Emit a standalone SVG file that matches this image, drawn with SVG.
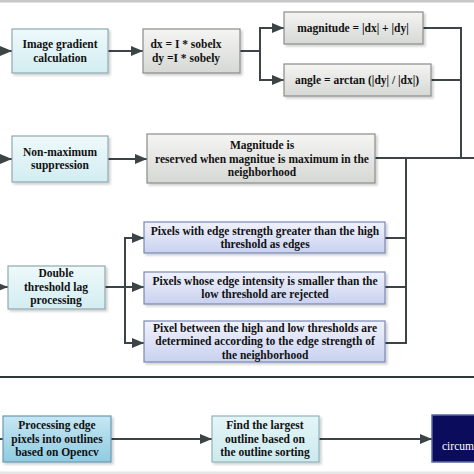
<svg xmlns="http://www.w3.org/2000/svg" width="474" height="474" viewBox="0 0 474 474">
<defs>
<linearGradient id="gCyan" x1="0" y1="0" x2="0" y2="1"><stop offset="0" stop-color="#eef9fb"/><stop offset="1" stop-color="#d2edf1"/></linearGradient>
<linearGradient id="gGray" x1="0" y1="0" x2="0" y2="1"><stop offset="0" stop-color="#f5f5f3"/><stop offset="1" stop-color="#d6d8d4"/></linearGradient>
<linearGradient id="gLav" x1="0" y1="0" x2="0" y2="1"><stop offset="0" stop-color="#f0f2fc"/><stop offset="1" stop-color="#c9d1ef"/></linearGradient>
<linearGradient id="gBlue" x1="0" y1="0" x2="0" y2="1"><stop offset="0" stop-color="#c6e7f3"/><stop offset="1" stop-color="#90cbe1"/></linearGradient>
<linearGradient id="gLight" x1="0" y1="0" x2="0" y2="1"><stop offset="0" stop-color="#e4f5f7"/><stop offset="1" stop-color="#cdeaee"/></linearGradient>
<filter id="sh" x="-10%" y="-10%" width="130%" height="140%"><feDropShadow dx="2" dy="2" stdDeviation="1.2" flood-color="#000" flood-opacity="0.18"/></filter>
<marker id="ah" markerWidth="12" markerHeight="10" refX="12" refY="5" orient="auto" markerUnits="userSpaceOnUse"><path d="M0,0 L12,5 L0,10 Z" fill="#3c4446"/></marker>
<style>
text{font-family:"Liberation Serif","Times New Roman",serif;font-weight:bold;font-size:11.5px;fill:#111;text-anchor:middle}
.c{fill:url(#gCyan);stroke:#8fa9b0;stroke-width:1.2;filter:url(#sh)}
.g{fill:url(#gGray);stroke:#8a8c8a;stroke-width:1.2;filter:url(#sh)}
.l{fill:url(#gLav);stroke:#7a88b8;stroke-width:1.2;filter:url(#sh)}
.b{fill:url(#gBlue);stroke:#6a98b4;stroke-width:1.2;filter:url(#sh)}
.lt{fill:url(#gLight);stroke:#8fb3ba;stroke-width:1.2;filter:url(#sh)}
.n{fill:#0c0c5c;stroke:#5868a8;stroke-width:1.5}
.w{fill:#fff;font-weight:normal;text-anchor:start}
.k{fill:none;stroke:#3c4446;stroke-width:2}
.a{fill:none;stroke:#3c4446;stroke-width:2;marker-end:url(#ah)}
</style>
</defs>
<rect x="0" y="0" width="474" height="474" fill="#fff"/>
<rect x="0" y="0" width="474" height="2.5" fill="#c8c8c8"/>
<rect x="0" y="471.5" width="474" height="2.5" fill="#e6e6e6"/>
<line x1="0" y1="377" x2="474" y2="377" stroke="#2e3a3a" stroke-width="2.2"/>

<g id="connectors">
<line class="a" x1="0" y1="51" x2="12" y2="51"/>
<line class="a" x1="108" y1="51" x2="143" y2="51"/>
<polyline class="k" points="240,51 260,51"/>
<polyline class="a" points="260,51 260,28 284,28"/>
<polyline class="a" points="260,51 260,80 284,80"/>
<polyline class="k" points="423,28 461,28 461,158"/>
<polyline class="k" points="431,80 461,80"/>
<line class="a" x1="0" y1="159" x2="12" y2="159"/>
<line class="a" x1="108" y1="159" x2="147" y2="159"/>
<line class="k" x1="375" y1="158" x2="474" y2="158"/>
<polyline class="k" points="406,158 406,343 385,343"/>
<line class="k" x1="385" y1="238" x2="406" y2="238"/>
<line class="k" x1="385" y1="287" x2="406" y2="287"/>
<line class="a" x1="0" y1="287" x2="8" y2="287"/>
<line class="k" x1="105" y1="287" x2="125" y2="287"/>
<polyline class="a" points="125,287 125,238 144,238"/>
<line class="a" x1="125" y1="287" x2="144" y2="287"/>
<polyline class="a" points="125,287 125,343 144,343"/>
<line class="k" x1="0" y1="439" x2="3" y2="439"/>
<line class="a" x1="111" y1="439" x2="212" y2="439"/>
<line class="a" x1="319" y1="439" x2="432" y2="439"/>
</g>

<g id="gradient">
<rect class="c" x="12" y="29" width="96" height="44"/>
<text x="60" y="48">Image gradient</text>
<text x="60" y="62">calculation</text>
</g>
<g id="dxdy">
<rect class="g" x="143" y="29" width="97" height="44"/>
<text x="186" y="48">dx = I * sobelx</text>
<text x="186" y="62">dy =I * sobely</text>
</g>
<g id="magnitude">
<rect class="g" x="284" y="12" width="139" height="32"/>
<text x="353" y="32">magnitude = |dx| + |dy|</text>
</g>
<g id="angle">
<rect class="g" x="284" y="64" width="147" height="32"/>
<text x="357" y="84">angle = arctan (|dy| / |dx|)</text>
</g>
<g id="nms">
<rect class="c" x="12" y="136" width="96" height="46"/>
<text x="60" y="156">Non-maximum</text>
<text x="60" y="169">suppression</text>
</g>
<g id="reserved">
<rect class="g" x="147" y="134" width="228" height="49"/>
<text x="262" y="149">Magnitude is</text>
<text x="262" y="163">reserved when magnitue is maximum in the</text>
<text x="262" y="176">neighborhood</text>
</g>
<g id="double">
<rect class="c" x="8" y="266" width="97" height="43"/>
<text x="56" y="277">Double</text>
<text x="56" y="291">threshold lag</text>
<text x="56" y="304">processing</text>
</g>
<g id="high">
<rect class="l" x="144" y="222" width="241" height="31"/>
<text x="265" y="235">Pixels with edge strength greater than the high</text>
<text x="265" y="248">threshold as edges</text>
</g>
<g id="low">
<rect class="l" x="144" y="272" width="241" height="32"/>
<text x="265" y="285">Pixels whose edge intensity is smaller than the</text>
<text x="265" y="298">low threshold are rejected</text>
</g>
<g id="between">
<rect class="l" x="144" y="321" width="241" height="41"/>
<text x="265" y="332">Pixel between the high and low thresholds are</text>
<text x="265" y="345">determined according to the edge strength of</text>
<text x="265" y="359">the neighborhood</text>
</g>
<g id="outlines">
<rect class="b" x="3" y="416" width="108" height="46"/>
<text x="57" y="429">Processing edge</text>
<text x="57" y="443">pixels into outlines</text>
<text x="57" y="456">based on Opencv</text>
</g>
<g id="largest">
<rect class="lt" x="212" y="416" width="107" height="46"/>
<text x="265" y="429">Find the largest</text>
<text x="265" y="443">outline based on</text>
<text x="265" y="456">the outline sorting</text>
</g>
<g id="circum">
<rect class="n" x="432" y="415" width="50" height="47"/>
<text class="w" x="442" y="450">circum</text>
</g>
</svg>
